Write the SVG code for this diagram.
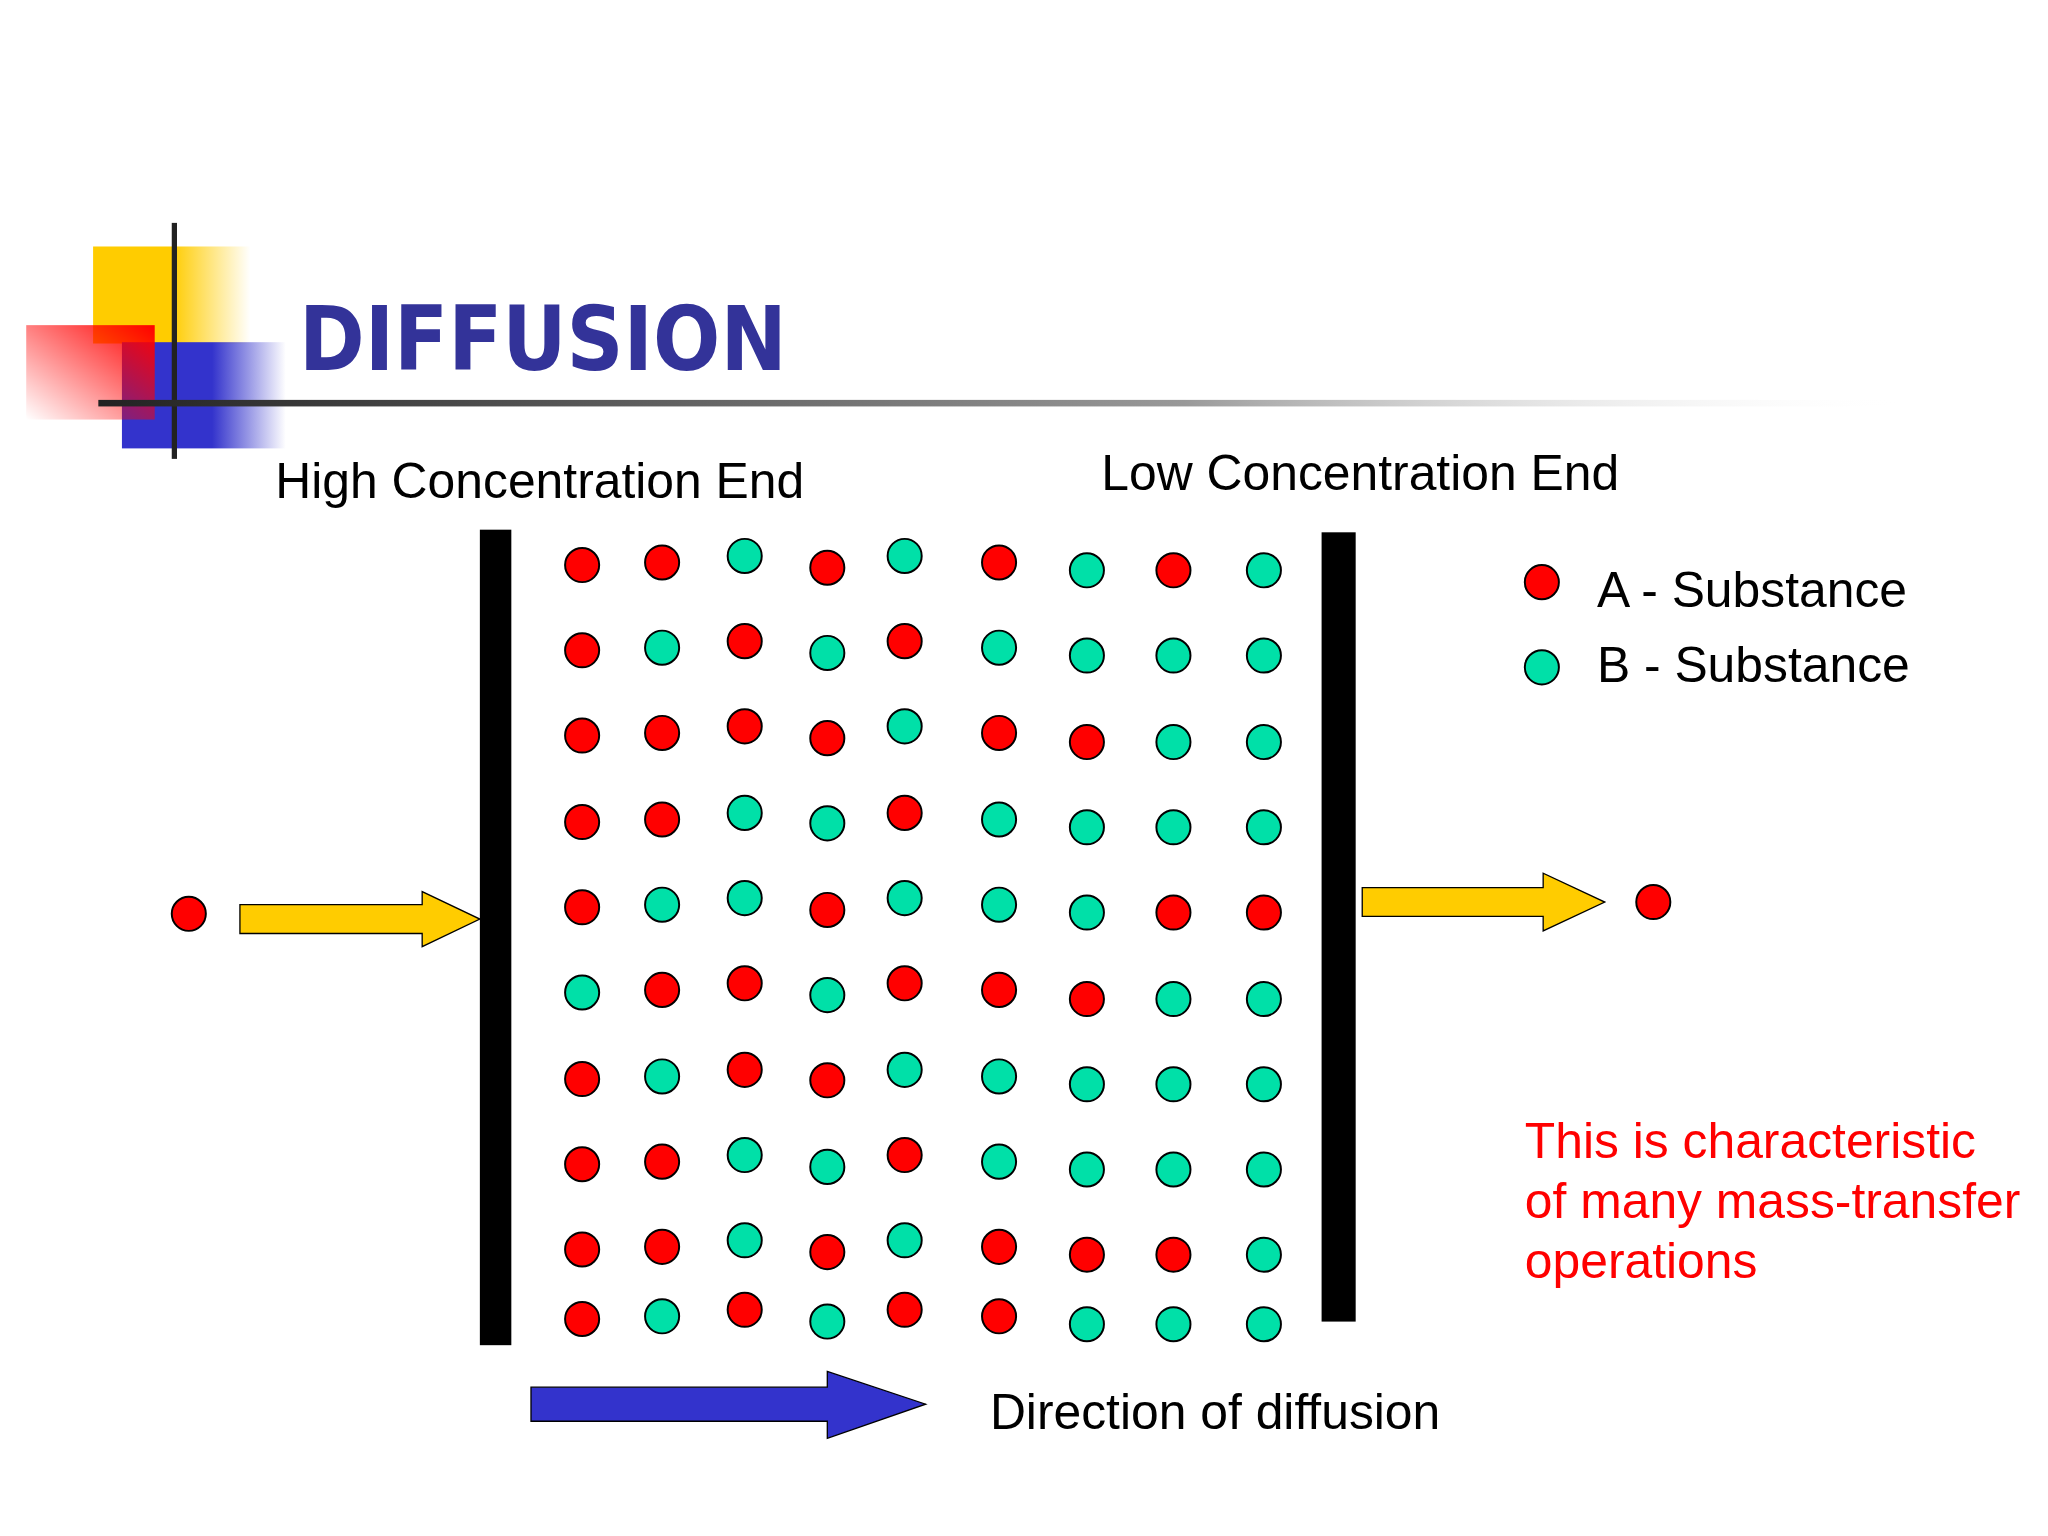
<svg xmlns="http://www.w3.org/2000/svg" width="2048" height="1536" viewBox="0 0 2048 1536">
<defs>
<linearGradient id="gy" x1="0" x2="1" y1="0" y2="0"><stop offset="0.5" stop-color="#ffcc00"/><stop offset="1" stop-color="#ffcc00" stop-opacity="0"/></linearGradient>
<linearGradient id="gr" x1="0" x2="1" y1="1" y2="0"><stop offset="0" stop-color="#ff0000" stop-opacity="0"/><stop offset="1" stop-color="#ff0000"/></linearGradient>
<linearGradient id="gb" x1="0" x2="1" y1="0" y2="0"><stop offset="0.55" stop-color="#3333cc"/><stop offset="1" stop-color="#3333cc" stop-opacity="0"/></linearGradient>
<linearGradient id="gl" x1="0" x2="1" y1="0" y2="0"><stop offset="0" stop-color="#222"/><stop offset="0.6" stop-color="#999"/><stop offset="1" stop-color="#fff" stop-opacity="0"/></linearGradient>
<style>
.t{font-family:"Liberation Sans",Arial,sans-serif;font-size:38px;fill:#000}
.r{fill:#ff0000;stroke:#000;stroke-width:1.5}
.g{fill:#00e0a8;stroke:#000;stroke-width:1.5}
.ya{fill:#ffcc00;stroke:#000;stroke-width:1}
</style>
</defs>
<rect width="2048" height="1536" fill="#fff"/>
<g transform="scale(1.3111)">
<g id="logo">
<rect x="71" y="188" width="120" height="74" fill="url(#gy)"/>
<rect x="93" y="261" width="125" height="81" fill="url(#gb)"/>
<rect x="20" y="248" width="98" height="72" fill="url(#gr)"/>
<rect x="131" y="170" width="4" height="180" fill="#222"/>
<rect x="75" y="305" width="1380" height="5" fill="url(#gl)"/>
</g>
<text id="title" x="228" y="282" font-family="DejaVu Sans,Verdana,sans-serif" font-weight="bold" font-size="68" fill="#333399" textLength="372" lengthAdjust="spacingAndGlyphs">DIFFUSION</text>
<text class="t" x="210" y="380">High Concentration End</text>
<text class="t" x="840" y="374">Low Concentration End</text>
<g id="bars"><rect x="366" y="404" width="24" height="622" fill="#000"/><rect x="1008" y="406" width="26" height="602" fill="#000"/></g>
<g id="connectors">
<polygon class="ya" points="183,690 322,690 322,680 366,701 322,722 322,712 183,712"/>
<polygon class="ya" points="1039,677 1177,677 1177,666 1224,688 1177,710 1177,699 1039,699"/>
<polygon fill="#3333cc" stroke="#000" stroke-width="1" points="405,1058 631,1058 631,1046 706,1071 631,1097 631,1084 405,1084"/>
</g>
<g id="particles">
<circle class="r" cx="144" cy="697" r="13"/><circle class="r" cx="1261" cy="688" r="13"/>
<circle class="r" cx="444" cy="431" r="13"/><circle class="r" cx="505" cy="429" r="13"/><circle class="g" cx="568" cy="424" r="13"/><circle class="r" cx="631" cy="433" r="13"/><circle class="g" cx="690" cy="424" r="13"/><circle class="r" cx="762" cy="429" r="13"/><circle class="g" cx="829" cy="435" r="13"/><circle class="r" cx="895" cy="435" r="13"/><circle class="g" cx="964" cy="435" r="13"/>
<circle class="r" cx="444" cy="496" r="13"/><circle class="g" cx="505" cy="494" r="13"/><circle class="r" cx="568" cy="489" r="13"/><circle class="g" cx="631" cy="498" r="13"/><circle class="r" cx="690" cy="489" r="13"/><circle class="g" cx="762" cy="494" r="13"/><circle class="g" cx="829" cy="500" r="13"/><circle class="g" cx="895" cy="500" r="13"/><circle class="g" cx="964" cy="500" r="13"/>
<circle class="r" cx="444" cy="561" r="13"/><circle class="r" cx="505" cy="559" r="13"/><circle class="r" cx="568" cy="554" r="13"/><circle class="r" cx="631" cy="563" r="13"/><circle class="g" cx="690" cy="554" r="13"/><circle class="r" cx="762" cy="559" r="13"/><circle class="r" cx="829" cy="566" r="13"/><circle class="g" cx="895" cy="566" r="13"/><circle class="g" cx="964" cy="566" r="13"/>
<circle class="r" cx="444" cy="627" r="13"/><circle class="r" cx="505" cy="625" r="13"/><circle class="g" cx="568" cy="620" r="13"/><circle class="g" cx="631" cy="628" r="13"/><circle class="r" cx="690" cy="620" r="13"/><circle class="g" cx="762" cy="625" r="13"/><circle class="g" cx="829" cy="631" r="13"/><circle class="g" cx="895" cy="631" r="13"/><circle class="g" cx="964" cy="631" r="13"/>
<circle class="r" cx="444" cy="692" r="13"/><circle class="g" cx="505" cy="690" r="13"/><circle class="g" cx="568" cy="685" r="13"/><circle class="r" cx="631" cy="694" r="13"/><circle class="g" cx="690" cy="685" r="13"/><circle class="g" cx="762" cy="690" r="13"/><circle class="g" cx="829" cy="696" r="13"/><circle class="r" cx="895" cy="696" r="13"/><circle class="r" cx="964" cy="696" r="13"/>
<circle class="g" cx="444" cy="757" r="13"/><circle class="r" cx="505" cy="755" r="13"/><circle class="r" cx="568" cy="750" r="13"/><circle class="g" cx="631" cy="759" r="13"/><circle class="r" cx="690" cy="750" r="13"/><circle class="r" cx="762" cy="755" r="13"/><circle class="r" cx="829" cy="762" r="13"/><circle class="g" cx="895" cy="762" r="13"/><circle class="g" cx="964" cy="762" r="13"/>
<circle class="r" cx="444" cy="823" r="13"/><circle class="g" cx="505" cy="821" r="13"/><circle class="r" cx="568" cy="816" r="13"/><circle class="r" cx="631" cy="824" r="13"/><circle class="g" cx="690" cy="816" r="13"/><circle class="g" cx="762" cy="821" r="13"/><circle class="g" cx="829" cy="827" r="13"/><circle class="g" cx="895" cy="827" r="13"/><circle class="g" cx="964" cy="827" r="13"/>
<circle class="r" cx="444" cy="888" r="13"/><circle class="r" cx="505" cy="886" r="13"/><circle class="g" cx="568" cy="881" r="13"/><circle class="g" cx="631" cy="890" r="13"/><circle class="r" cx="690" cy="881" r="13"/><circle class="g" cx="762" cy="886" r="13"/><circle class="g" cx="829" cy="892" r="13"/><circle class="g" cx="895" cy="892" r="13"/><circle class="g" cx="964" cy="892" r="13"/>
<circle class="r" cx="444" cy="953" r="13"/><circle class="r" cx="505" cy="951" r="13"/><circle class="g" cx="568" cy="946" r="13"/><circle class="r" cx="631" cy="955" r="13"/><circle class="g" cx="690" cy="946" r="13"/><circle class="r" cx="762" cy="951" r="13"/><circle class="r" cx="829" cy="957" r="13"/><circle class="r" cx="895" cy="957" r="13"/><circle class="g" cx="964" cy="957" r="13"/>
<circle class="r" cx="444" cy="1006" r="13"/><circle class="g" cx="505" cy="1004" r="13"/><circle class="r" cx="568" cy="999" r="13"/><circle class="g" cx="631" cy="1008" r="13"/><circle class="r" cx="690" cy="999" r="13"/><circle class="r" cx="762" cy="1004" r="13"/><circle class="g" cx="829" cy="1010" r="13"/><circle class="g" cx="895" cy="1010" r="13"/><circle class="g" cx="964" cy="1010" r="13"/>
</g>
<g id="legend">
<circle class="r" cx="1176" cy="444" r="13"/><text class="t" x="1218" y="463">A - Substance</text>
<circle class="g" cx="1176" cy="509" r="13"/><text class="t" x="1218" y="520">B - Substance</text>
</g>
<text class="t" x="755" y="1090">Direction of diffusion</text>
<g id="note" class="t" style="fill:#ff0000">
<text x="1163" y="883">This is characteristic</text>
<text x="1163" y="929">of many mass-transfer</text>
<text x="1163" y="975">operations</text>
</g>
</g>
</svg>
